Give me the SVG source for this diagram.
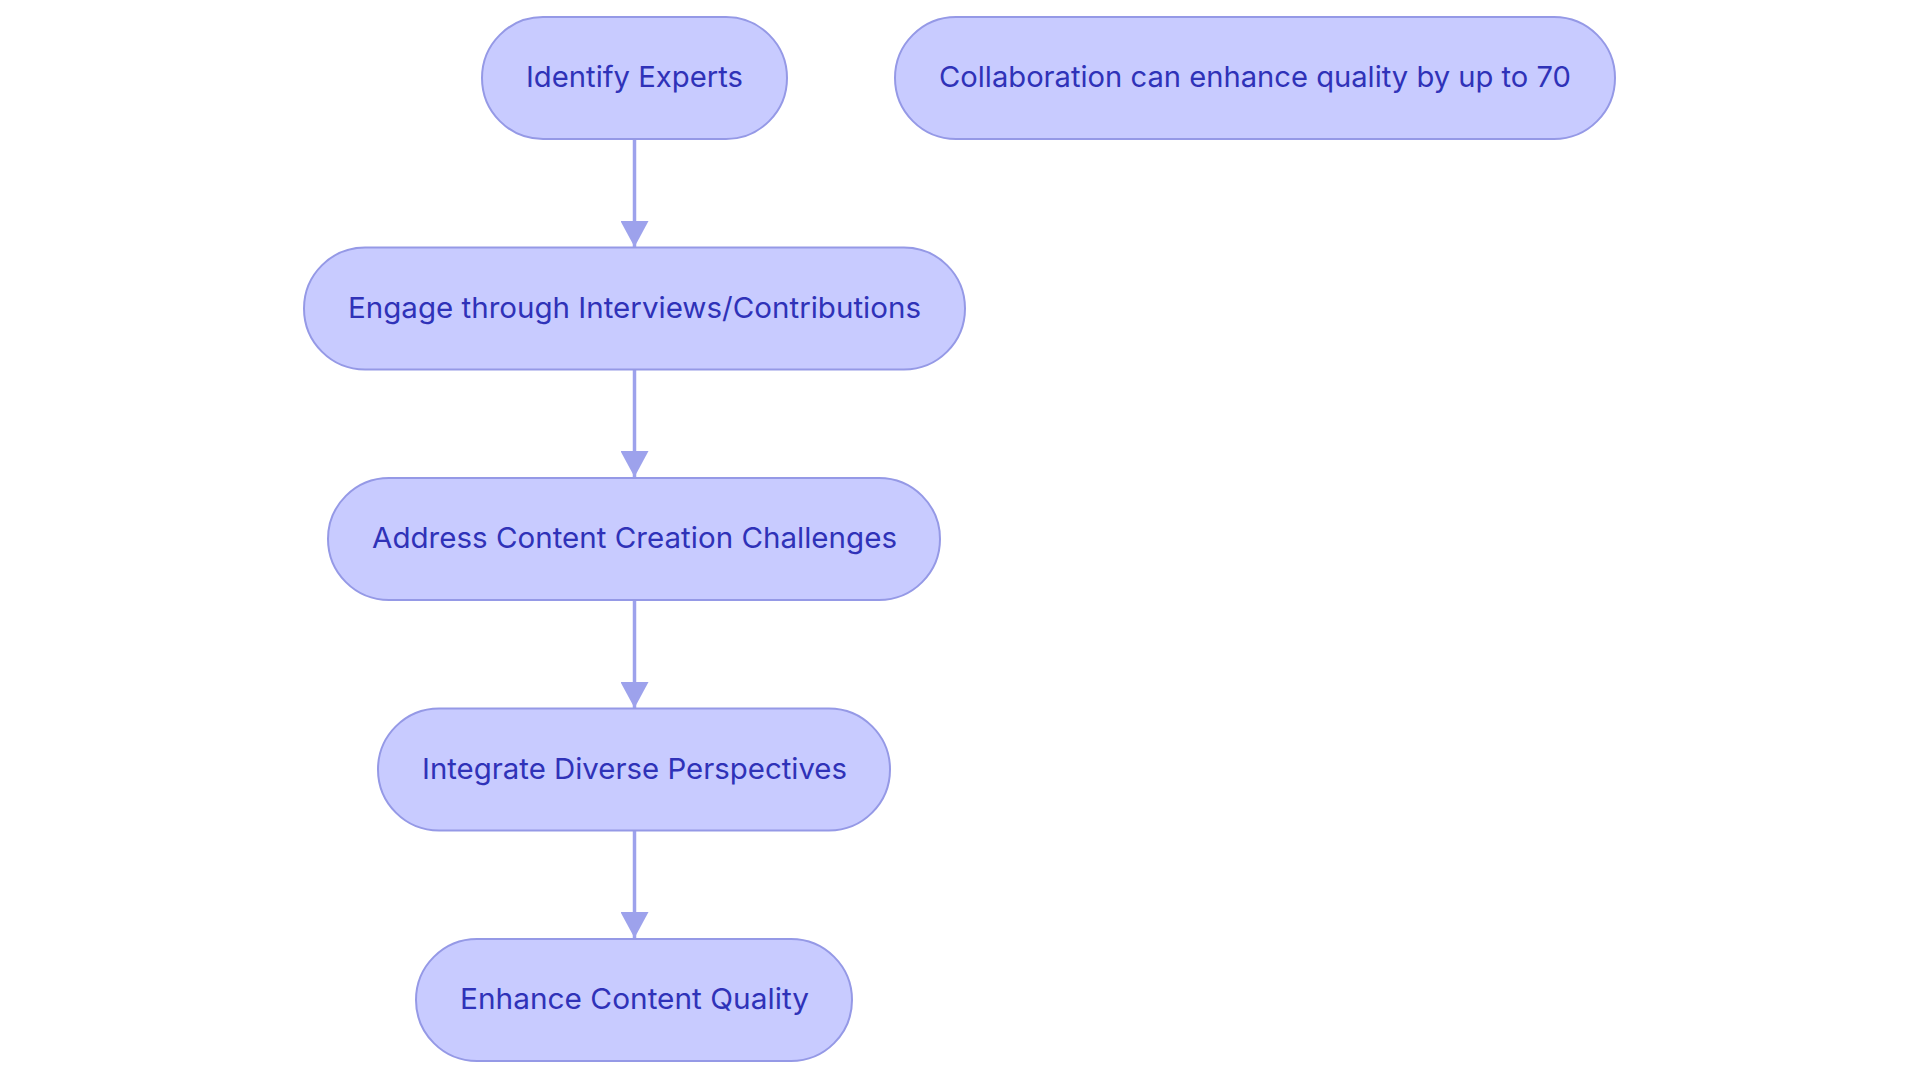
<svg xmlns="http://www.w3.org/2000/svg" width="1920" height="1083" viewBox="0 0 1920 1083">
<defs>
<style>
.node rect{fill:#c8cbff;stroke:#9599e6;stroke-width:2}
.node text{font-family:Inter,"Noto Sans",sans-serif;font-size:29px;fill:#2f32b8;text-anchor:middle}
.edge{stroke:#9da2ec;stroke-width:3.5;fill:none}
</style>
<marker id="arr" markerUnits="userSpaceOnUse" markerWidth="28" markerHeight="28" refX="26" refY="14" orient="auto" viewBox="0 0 28 28">
<path d="M0,0 L26,14 L0,28 Z" fill="#9da2ec"/>
</marker>
</defs>
<rect width="1920" height="1083" fill="#ffffff"/>
<g id="connectors">
<line class="edge" x1="634.5" y1="139" x2="634.5" y2="247" marker-end="url(#arr)"/>
<line class="edge" x1="634.5" y1="369" x2="634.5" y2="477" marker-end="url(#arr)"/>
<line class="edge" x1="634.5" y1="600" x2="634.5" y2="708" marker-end="url(#arr)"/>
<line class="edge" x1="634.5" y1="830" x2="634.5" y2="938" marker-end="url(#arr)"/>
</g>
<g id="n1" class="node"><rect x="482" y="17" width="305" height="122" rx="61"/><text x="634.5" y="87" textLength="217" lengthAdjust="spacingAndGlyphs">Identify Experts</text></g>
<g id="n2" class="node"><rect x="895" y="17" width="720" height="122" rx="61"/><text x="1255" y="87" textLength="632" lengthAdjust="spacingAndGlyphs">Collaboration can enhance quality by up to 70</text></g>
<g id="n3" class="node"><rect x="304" y="247.5" width="661" height="122" rx="61"/><text x="634.5" y="317.5" textLength="573" lengthAdjust="spacingAndGlyphs">Engage through Interviews/Contributions</text></g>
<g id="n4" class="node"><rect x="328" y="478" width="612" height="122" rx="61"/><text x="634.5" y="548" textLength="525" lengthAdjust="spacingAndGlyphs">Address Content Creation Challenges</text></g>
<g id="n5" class="node"><rect x="378" y="708.5" width="512" height="122" rx="61"/><text x="634.5" y="778.5" textLength="425" lengthAdjust="spacingAndGlyphs">Integrate Diverse Perspectives</text></g>
<g id="n6" class="node"><rect x="416" y="939" width="436" height="122" rx="61"/><text x="634.5" y="1009" textLength="349" lengthAdjust="spacingAndGlyphs">Enhance Content Quality</text></g>
</svg>
